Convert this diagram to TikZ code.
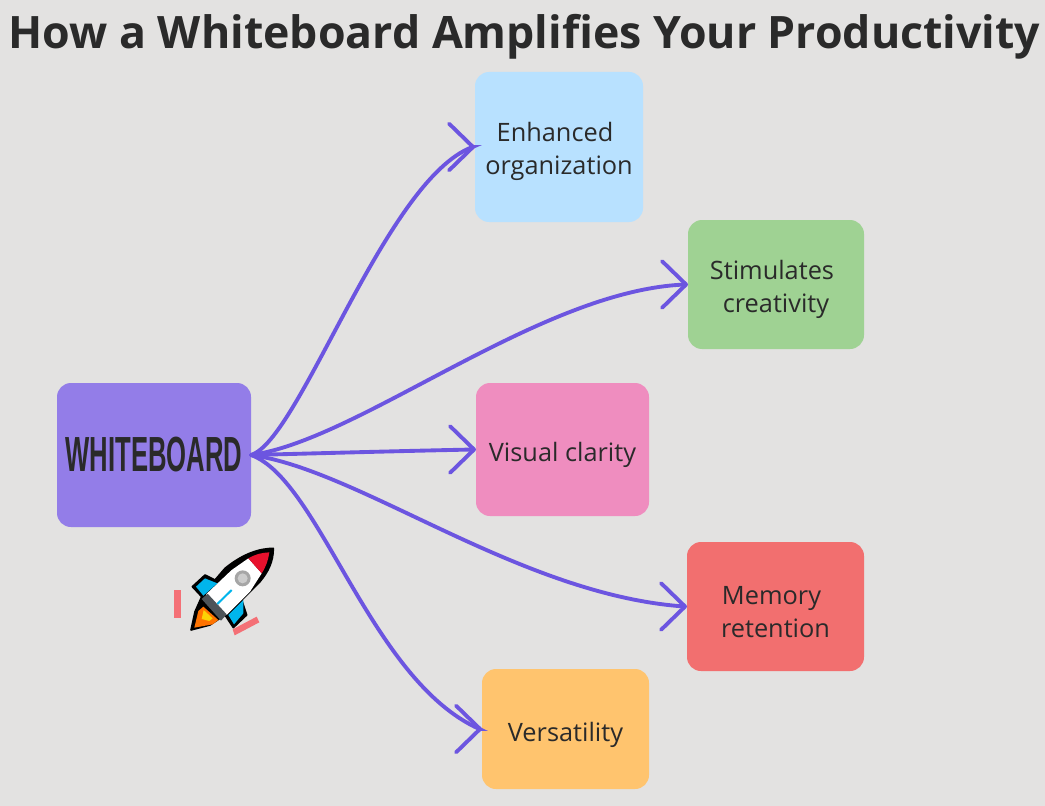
\documentclass[tikz,border=0pt]{standalone}
\usepackage{fontspec}
\usepackage{xcolor}
\usetikzlibrary{arrows.meta}
\setmainfont{Open Sans}
\newfontfamily\bebasfont[FakeStretch=0.52]{Liberation Sans}

\definecolor{bgcol}{HTML}{E3E2E1}
\definecolor{inkcol}{HTML}{2A2A2A}
\definecolor{arrowcol}{HTML}{6C55E0}
\definecolor{purplecol}{HTML}{937DE8}
\definecolor{bluecol}{HTML}{B8E1FF}
\definecolor{greencol}{HTML}{9FD293}
\definecolor{pinkcol}{HTML}{EF8DBF}
\definecolor{redcol}{HTML}{F26F6F}
\definecolor{orangecol}{HTML}{FFC46E}
\definecolor{finblue}{HTML}{00B5EC}
\definecolor{nosered}{HTML}{E8112D}
\definecolor{tailgrey}{HTML}{4D5459}
\definecolor{tickred}{HTML}{F47076}

\begin{document}
\begin{tikzpicture}[x=0.75pt, y=-0.75pt]

  \tikzstyle{card} = [rounded corners=10.5pt, inner sep=0pt, outer sep=0pt, align=center,
  text=inkcol]

  \tikzstyle{leaf} = [card, font=\fontsize{19}{24.75}\selectfont,
  execute at begin node={\rule{0pt}{23pt}}] % pushes the text a bit below the middle

  \tikzstyle{tallleaf} = [leaf, execute at begin node={\rule{0pt}{46.5pt}}] % same for two lines

  \tikzstyle{link} = [draw=arrowcol, line width=2.9pt, line cap=round,
  -{Straight Barb[length=18pt, width=35pt, line width=2.9pt, round]}]

  \fill[bgcol] (0,0) rectangle (1045,806);

  \node[font=\fontsize{33.5}{33.5}\bfseries\selectfont, text=inkcol] (title) at (524.5,37)
    {How a Whiteboard Amplifies Your Productivity};

  \node[card, fill=purplecol, minimum width=145.5pt, minimum height=108pt,
    font=\fontsize{37}{37}\bebasfont\bfseries\selectfont] (whiteboard) at (154,455) {WHITEBOARD};

  \node[tallleaf, fill=bluecol, minimum width=126pt, minimum height=112.5pt] (organization) at (559,147)
    {Enhanced\hspace*{6pt}\\organization};
  \node[tallleaf, fill=greencol, minimum width=132pt, minimum height=96.75pt] (creativity) at (776,284.5)
    {Stimulates\hspace*{6pt}\\creativity};
  \node[leaf, fill=pinkcol, minimum width=129.75pt, minimum height=99.75pt] (clarity) at (562.5,449.5)
    {Visual clarity};
  \node[tallleaf, fill=redcol, minimum width=132.75pt, minimum height=96.75pt] (memory) at (775.5,606.5)
    {Memory\hspace*{6pt}\\retention};
  \node[leaf, fill=orangecol, minimum width=125.25pt, minimum height=90pt] (versatility) at (565.5,729)
    {Versatility};

  % the short last piece keeps every head level
  \draw[link] (whiteboard.east) .. controls (300,440) and (385,180) .. ([xshift=-2pt]organization.west) -- (organization.west);
  \draw[link] (whiteboard.east) .. controls (360,440) and (540,290) .. ([xshift=-2pt]creativity.west) -- (creativity.west);
  \draw[link] (whiteboard.east) .. controls (330,453) and (400,451) .. ([xshift=-2pt]clarity.west) -- (clarity.west);
  \draw[link] (whiteboard.east) .. controls (360,470) and (520,595) .. ([xshift=-2pt]memory.west) -- (memory.west);
  \draw[link] (whiteboard.east) .. controls (320,480) and (370,680) .. ([xshift=-2pt]versatility.west) -- (versatility.west);

  % rocket
  \begin{scope}[shift={(160,535)}, x=0.25pt, y=-0.25pt]
    \filldraw[black, line width=1.2pt, line join=round] (340,40) .. controls (300,40) and (250,55) .. (195,100) -- (165,135)
      -- (135,120) -- (97,155) -- (125,185) -- (105,230) -- (93,285) -- (150,270) -- (195,240)
      -- (220,278) -- (260,240) -- (245,195) -- (300,140) .. controls (325,110) and (340,80) .. cycle;
    \fill[white] (265,70) -- (215,105) -- (138,178) -- (200,240) -- (270,170) -- (305,115) -- cycle;
    \fill[nosered] (328,52) .. controls (305,53) and (285,58) .. (265,70) -- (305,115) .. controls (318,95) and (325,75) .. cycle;
    \fill[finblue] (108,155) -- (135,130) -- (172,145) -- (130,182) -- cycle;
    \fill[finblue] (205,240) -- (250,195) -- (250,235) -- (222,268) -- cycle;
    \fill[tailgrey] (125,192) -- (143,176) -- (200,238) -- (183,257) -- cycle;
    \fill[orange!90!red] (103,278) -- (115,228) -- (130,215) -- (175,255) -- (158,268) -- cycle;
    \fill[yellow!70!orange] (125,252) -- (131,225) -- (158,250) -- (148,258) -- cycle;
    \fill[black!35] (248,130) circle[radius=24];
    \fill[black!20] (248,130) circle[radius=15];
    \draw[finblue, line width=1.5pt] (172,207) -- (215,165);
    % red ticks
    \fill[tickred] (42,165) rectangle (63,248);
    \fill[tickred] (218,283) -- (290,245) -- (298,262) -- (224,301) -- cycle;
  \end{scope}

\end{tikzpicture}
\end{document}
